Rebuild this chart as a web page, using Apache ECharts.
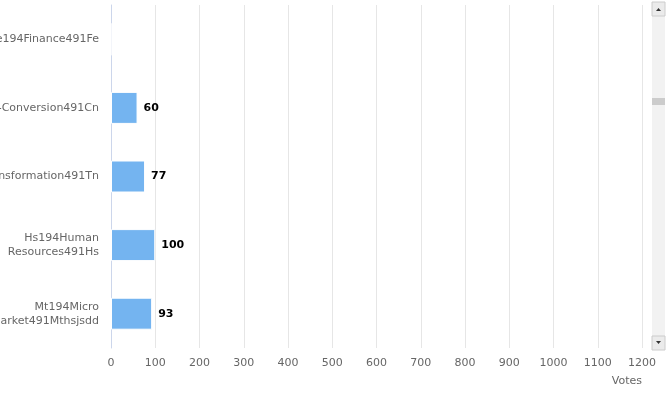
<!DOCTYPE html>
<html>
<head>
<meta charset="utf-8">
<script src="https://cdn.jsdelivr.net/npm/echarts@6/dist/echarts.min.js"></script>
<style>html,body{margin:0;padding:0;background:#fff}#main{width:668px;height:412px}</style>
</head>
<body>
<div id="main"></div>
<script>
const categories = ["Fe194Finance491Fe", "Cn194Conversion491Cn", "Tn194Transformation491Tn", "Hs194Human\nResources491Hs", "Mt194Micro\nMarket491Mthsjsdd"];
const votes = [0, 60, 77, 100, 93];
const xTicks = { min: 0, max: 1200, interval: 100 };

let myChart = echarts.init(document.getElementById("main"));
let option = {
  textStyle: { fontFamily: "DejaVu Sans" },
  animation: false,
  grid: { left: 111, right: 26, top: 5, bottom: 64, containLabel: false, outerBoundsMode: "none" },
  xAxis: {
    type: "value",
    min: xTicks.min, max: xTicks.max, interval: xTicks.interval,
    name: "Votes", nameLocation: "end", nameGap: 0,
    nameTextStyle: { color: "#666", fontSize: 11, align: "right", verticalAlign: "top", padding: [28, 0, 0, 0] },
    axisLine: { show: false }, axisTick: { show: false },
    axisLabel: { color: "#666", fontSize: 11, margin: 10, formatter: v => String(v) },
    splitLine: { lineStyle: { color: "#e6e6e6" } }
  },
  yAxis: {
    type: "category", inverse: true, data: categories,
    axisLine: { lineStyle: { color: "#ccd6eb" } }, axisTick: { show: false },
    axisLabel: { color: "#666", fontSize: 11, margin: 12, lineHeight: 14 }
  },
  series: [{
    type: "bar", data: votes, barWidth: 32,
    itemStyle: { color: "#74b4f0", borderColor: "#fff", borderWidth: 1 },
    label: { show: true, position: "right", color: "#000", fontWeight: "bold", fontSize: 11, distance: 6,
      formatter: p => (p.value ? p.value : "") }
  }],
  graphic: [
    { type: "rect", shape: { x: 652, y: 2, width: 13, height: 348 }, style: { fill: "#f2f2f2" } },
    { type: "rect", shape: { x: 652, y: 2, width: 13, height: 14 }, style: { fill: "#ebebeb", stroke: "#ccc" } },
    { type: "rect", shape: { x: 652, y: 336, width: 13, height: 14 }, style: { fill: "#ebebeb", stroke: "#ccc" } },
    { type: "polygon", shape: { points: [[656, 11], [661, 11], [658.5, 8]] }, style: { fill: "#333" } },
    { type: "polygon", shape: { points: [[656, 341], [661, 341], [658.5, 344]] }, style: { fill: "#333" } },
    { type: "rect", shape: { x: 652, y: 98, width: 13, height: 7 }, style: { fill: "#cccccc" } }
  ]
};
option && myChart.setOption(option);
</script>
</body>
</html>
